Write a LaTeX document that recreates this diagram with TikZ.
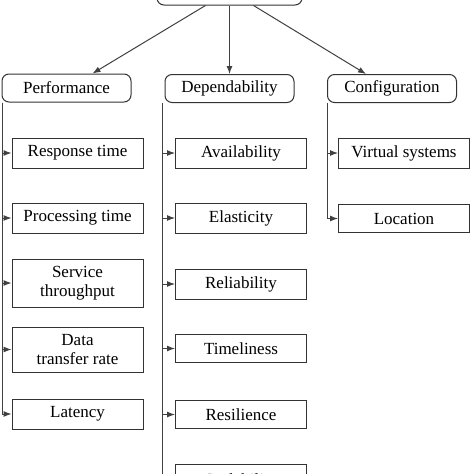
\documentclass[tikz,border=0pt]{standalone}
\usepackage{fontspec}
\setmainfont{Liberation Serif}
\usetikzlibrary{arrows.meta}
\tikzset{
	headbox/.style={draw=black!80, line width=1pt, rounded corners=7pt, minimum width=129pt, minimum height=28pt, inner sep=0pt},
	itembox/.style={draw=black!80, line width=1pt, minimum width=131pt, minimum height=30pt, inner sep=0pt, align=center},
	link/.style={draw=black!75, line width=1pt, -{Latex[length=8pt,width=6pt]}},
}

\begin{document}
\begin{tikzpicture}[x=1pt, y=-1pt, font=\fontsize{17}{19}\selectfont]
			%%%%% START %%%%%
			\useasboundingbox (0, 0) rectangle (474, 474);
			\clip (0, 0) rectangle (474, 474);
			
			\node[headbox, minimum width=145pt, minimum height=34pt] (root) at (229.5, -12) {};
			
			\node[headbox] (perf) at (66.5, 88) {Performance};
			\node[headbox] (dep) at (229.5, 88.5) {Dependability};
			\node[headbox] (conf) at (392, 88.5) {Configuration};
			
			\draw[link] ([xshift=-24pt]root.south) -- ([xshift=26pt]perf.north);
			\draw[link] (root.south) -- (dep.north);
			\draw[link] ([xshift=24pt]root.south) -- ([xshift=-26pt]conf.north);
			
			% performance
			\node[itembox] (resp) at (77.5, 153) {Response time};
			\node[itembox] (proc) at (77.5, 218) {Processing time};
			\node[itembox, minimum height=48pt] (thru) at (77.5, 283) {Service\\throughput};
			\node[itembox, minimum height=45pt] (rate) at (77.5, 349.5) {Data\\transfer rate};
			\node[itembox] (lat) at (77.5, 414) {Latency};
			
			% dependability
			\node[itembox] (avail) at (241, 153) {Availability};
			\node[itembox] (elast) at (241, 218) {Elasticity};
			\node[itembox] (rel) at (241, 284) {Reliability};
			\node[itembox, minimum height=28pt] (time) at (241, 348.5) {Timeliness};
			\node[itembox, minimum height=28pt] (resil) at (241, 414.5) {Resilience};
			\node[itembox, minimum height=34pt] (scal) at (241, 481) {Scalability};
			
			% configuration
			\node[itembox] (virt) at (404, 153) {Virtual systems};
			\node[itembox, minimum height=28pt] (loc) at (404, 218.5) {Location};
			
			\foreach \c in {resp, proc, thru, rate, lat}
				\draw[link] ([xshift=1pt]perf.south west) |- (\c);
			\foreach \c in {avail, elast, rel, time, resil, scal}
				\draw[link] ([xshift=-2pt]dep.south west) |- (\c);
			\foreach \c in {virt, loc}
				\draw[link] ([xshift=0pt]conf.south west) |- (\c);
			
			%%%%% END %%%%%
\end{tikzpicture}
\end{document}
